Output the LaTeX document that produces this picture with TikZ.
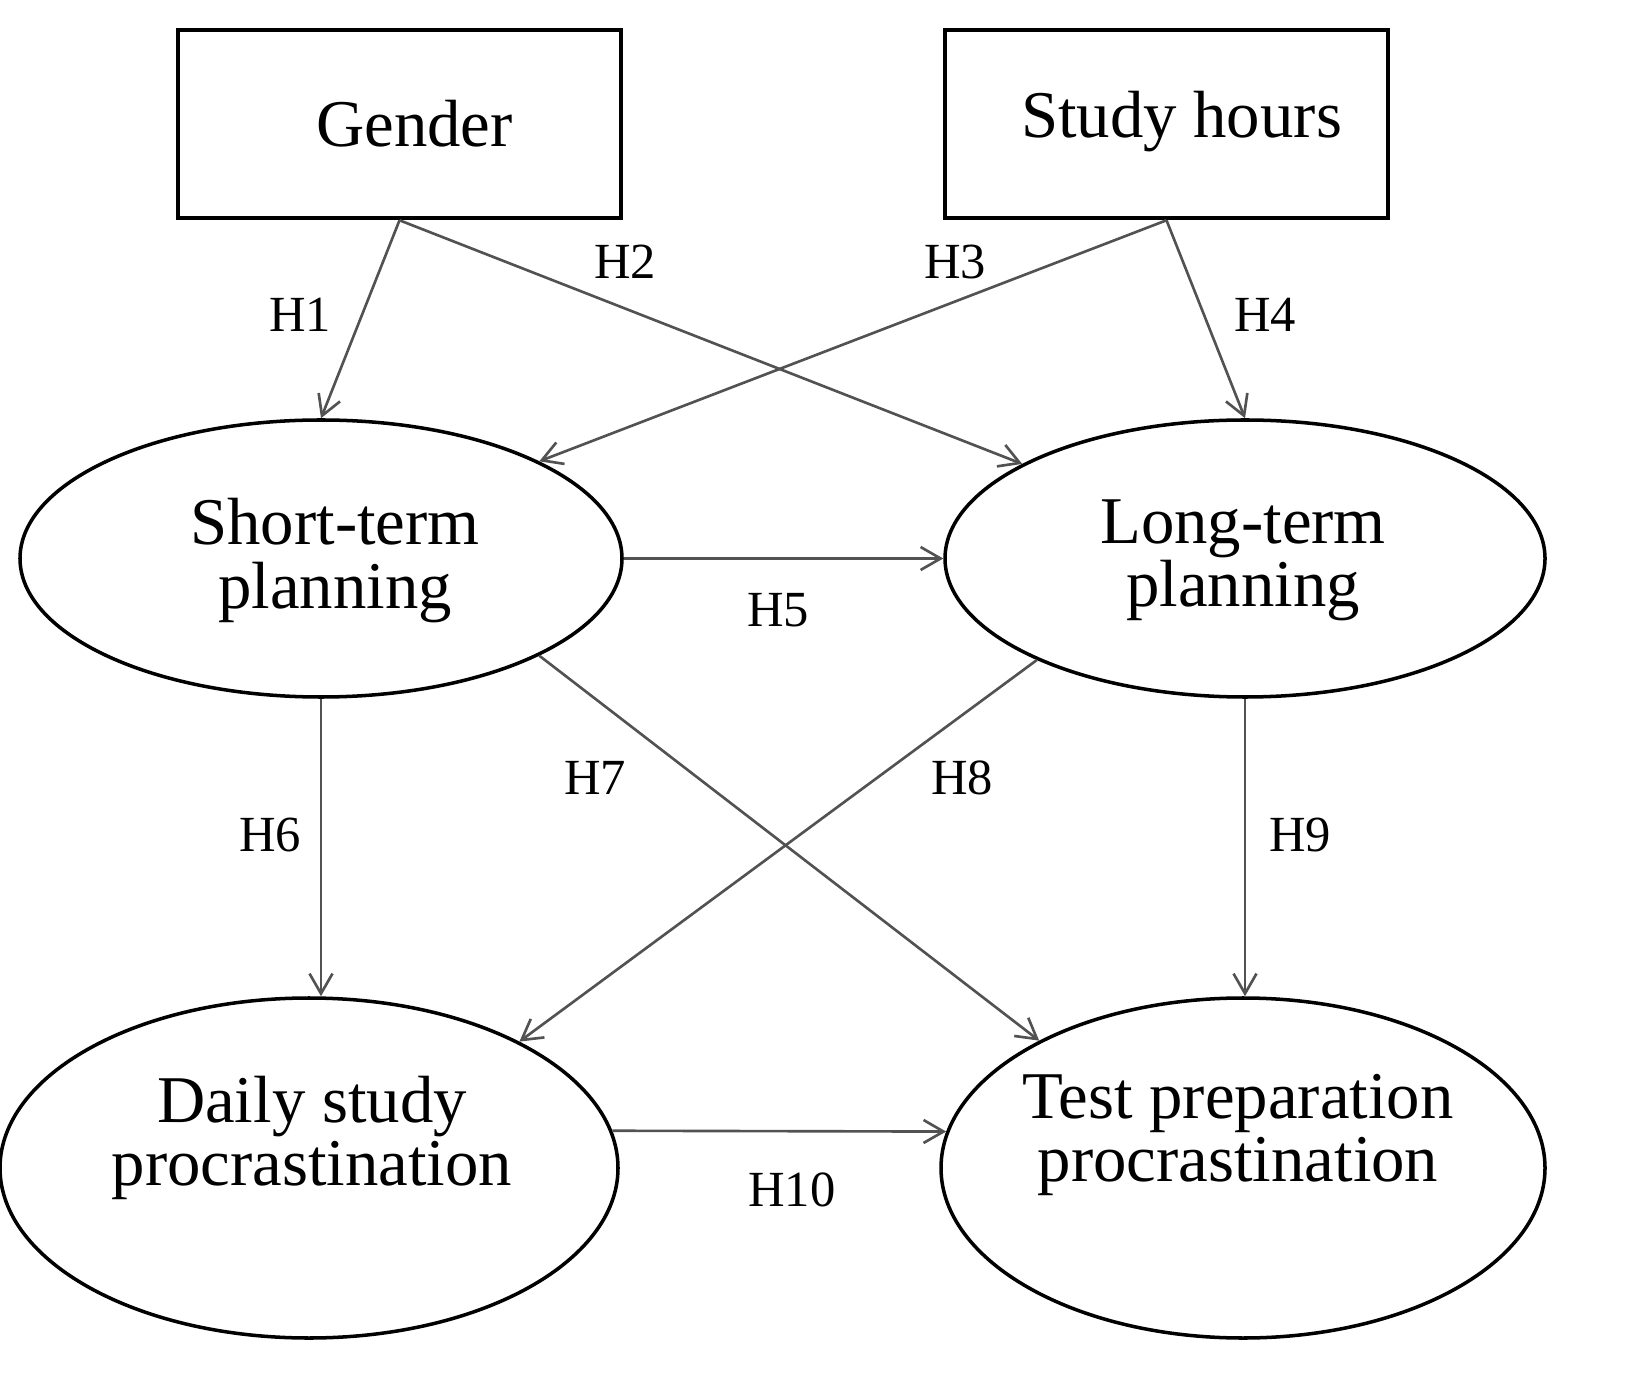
\documentclass[tikz,border=0pt]{standalone}
\usepackage{fontspec}
\setmainfont{Liberation Serif}
\usetikzlibrary{shapes.geometric,arrows.meta}
\tikzset{
  box/.style={draw=black, line width=1.3pt, rectangle, minimum width=4.43cm, minimum height=1.88cm, inner sep=0pt},
  oval/.style={draw=black, line width=1pt, ellipse, inner sep=0pt},
  ntext/.style={font=\fontsize{19}{18}\selectfont, align=center, inner sep=0pt},
  hyp/.style={draw=black!68, line width=0.75pt, -{Straight Barb[length=2mm,width=2.3mm]}},
  hlab/.style={font=\fontsize{14.4}{16}\selectfont, inner sep=0pt}
}
\begin{document}
\begin{tikzpicture}
\useasboundingbox (0,0) rectangle (16.49,-13.75);
% nodes
\node[box, label={[ntext, xshift=0.15cm]center:Gender}] (gen) at (3.995,-1.24) {};
\node[box, label={[ntext, xshift=0.15cm, yshift=0.02cm]center:Study hours}] (sh) at (11.665,-1.24) {};
\node[oval, minimum width=6.02cm, minimum height=2.77cm,
      label={[ntext, xshift=0.14cm, yshift=-0.02cm]center:Short-term\\planning}] (st) at (3.21,-5.585) {};
\node[oval, minimum width=6.0cm, minimum height=2.77cm,
      label={[ntext, xshift=-0.02cm, yshift=-0.02cm]center:Long-term\\planning}] (lt) at (12.45,-5.585) {};
\node[oval, minimum width=6.18cm, minimum height=3.4cm,
      label={[ntext, xshift=0.03cm, yshift=0.3cm]center:Daily study\\procrastination}] (dsp) at (3.09,-11.68) {};
\node[oval, minimum width=6.04cm, minimum height=3.4cm,
      label={[ntext, xshift=-0.05cm, yshift=0.33cm]center:Test preparation\\procrastination}] (tpp) at (12.43,-11.68) {};
% connectors
\draw[hyp] (gen.south) -- (st.north);
\draw[hyp] (gen.south) -- (lt.157);
\draw[hyp] (sh.south) -- (st.24);
\draw[hyp] (sh.south) -- (lt.north);
\draw[hyp] (st.east) -- (lt.west);
\draw[hyp] (st.south) -- (st.south |- dsp.north);
\draw[hyp] (st.-24) -- (tpp.148);
\draw[hyp] (lt.206) -- (dsp.31);
\draw[hyp] (lt.south) -- (lt.south |- tpp.north);
\draw[hyp] (dsp.7) -- (tpp.173);
% labels
\node[hlab] (l1) at (3.00,-3.15) {H1};
\node[hlab] (l2) at (6.25,-2.62) {H2};
\node[hlab] (l3) at (9.55,-2.62) {H3};
\node[hlab] (l4) at (12.65,-3.15) {H4};
\node[hlab] (l5) at (7.78,-6.10) {H5};
\node[hlab] (l6) at (2.70,-8.35) {H6};
\node[hlab] (l7) at (5.95,-7.78) {H7};
\node[hlab] (l8) at (9.62,-7.78) {H8};
\node[hlab] (l9) at (13.00,-8.35) {H9};
\node[hlab] (l10) at (7.92,-11.90) {H10};
\end{tikzpicture}
\end{document}
